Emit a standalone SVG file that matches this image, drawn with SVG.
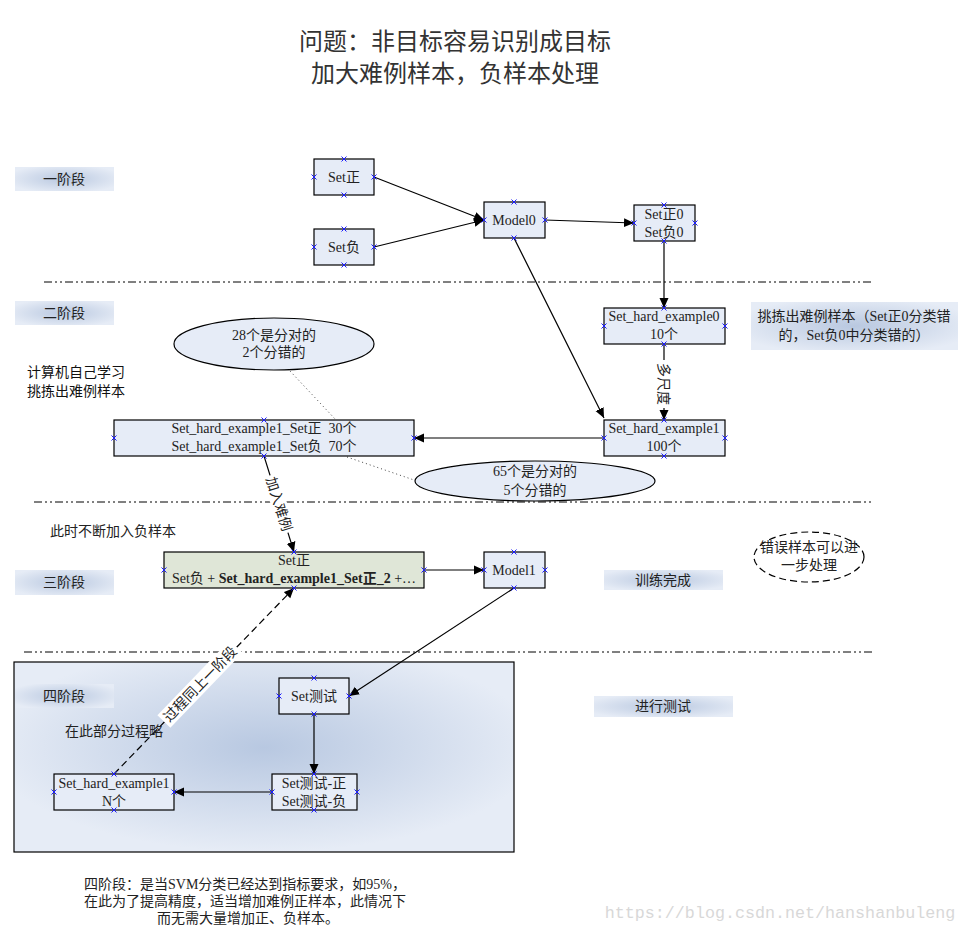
<svg xmlns="http://www.w3.org/2000/svg" xmlns:xlink="http://www.w3.org/1999/xlink" width="966" height="932" viewBox="0 0 966 932">
<defs>
<radialGradient id="lbl" cx="0.5" cy="0.5" r="0.6">
<stop offset="0" stop-color="#b9c8e0"/><stop offset="1" stop-color="#e6ecf6"/>
</radialGradient>
<radialGradient id="big" cx="0.5" cy="0.45" r="0.55">
<stop offset="0" stop-color="#b8c8e1"/><stop offset="1" stop-color="#e6ecf6"/>
</radialGradient>
<marker id="arr" viewBox="0 0 10 10" refX="10" refY="5" markerWidth="10" markerHeight="10" markerUnits="userSpaceOnUse" orient="auto">
<path d="M0,0.5 L10,5 L0,9.5 Z" fill="#000"/>
</marker>
<symbol id="m" overflow="visible"><path d="M-2.5,-2.5 L2.5,2.5 M-2.5,2.5 L2.5,-2.5" stroke="#1a1aff" stroke-width="1"/></symbol>
</defs>
<style>
text{font-family:"Liberation Serif","Noto Sans CJK SC",serif;font-size:14px;fill:#222;white-space:pre}
.c{text-anchor:middle}
.node{fill:#e6ecf7;stroke:#000;stroke-width:1.2}
.lbl{fill:url(#lbl)}
.edge{stroke:#000;stroke-width:1.2;fill:none}
.sep{stroke:#000;stroke-width:1;stroke-dasharray:8,3,2,3,2,3}
.dot{stroke:#444;stroke-width:1;stroke-dasharray:1,3;fill:none}
.sans{font-family:"Noto Sans CJK SC","Liberation Sans",sans-serif}
</style>
<rect width="966" height="932" fill="#fff"/>

<g id="title">
<text x="455" y="50" class="c sans" style="font-size:24px;fill:#333">问题：非目标容易识别成目标</text>
<text x="455" y="82" class="c sans" style="font-size:24px;fill:#333">加大难例样本，负样本处理</text>
</g>

<g id="separators">
<line x1="44" y1="282" x2="872" y2="282" class="sep"/>
<line x1="34" y1="502" x2="872" y2="502" class="sep"/>
<line x1="24" y1="652" x2="872" y2="652" class="sep"/>
</g>

<g id="stage4box"><rect x="14" y="662" width="500" height="190" fill="url(#big)" stroke="#000" stroke-width="1.2"/></g>

<g id="stage1"><rect x="15" y="167" width="99" height="24" class="lbl"/><text x="64" y="184" class="c">一阶段</text></g>
<g id="stage2"><rect x="15" y="301" width="99" height="24" class="lbl"/><text x="64" y="318" class="c">二阶段</text></g>
<g id="stage3"><rect x="15" y="570" width="99" height="25" class="lbl"/><text x="64" y="587" class="c">三阶段</text></g>
<g id="stage4"><rect x="15" y="684" width="99" height="24" class="lbl"/><text x="64" y="701" class="c">四阶段</text></g>
<g id="note-train"><rect x="604" y="570" width="119" height="20" class="lbl"/><text x="663" y="585" class="c">训练完成</text></g>
<g id="note-test"><rect x="594" y="696" width="139" height="21" class="lbl"/><text x="663" y="711" class="c">进行测试</text></g>
<g id="note-pick"><rect x="751" y="302" width="207" height="48" class="lbl"/><text x="854" y="321" class="c">挑拣出难例样本（Set正0分类错</text><text x="854" y="340" class="c">的，Set负0中分类错的）</text></g>

<g id="connectors">
<line x1="374" y1="177" x2="484" y2="220" class="edge" marker-end="url(#arr)"/>
<line x1="374" y1="247" x2="484" y2="220" class="edge" marker-end="url(#arr)"/>
<line x1="545" y1="220" x2="634" y2="223" class="edge" marker-end="url(#arr)"/>
<line x1="664" y1="241" x2="664" y2="308" class="edge" marker-end="url(#arr)"/>
<line x1="514" y1="238" x2="604" y2="418" class="edge" marker-end="url(#arr)"/>
<line x1="664" y1="344" x2="664" y2="420" class="edge" marker-end="url(#arr)"/>
<line x1="604" y1="438" x2="414" y2="438" class="edge" marker-end="url(#arr)"/>
<line x1="264" y1="456" x2="294" y2="552" class="edge" marker-end="url(#arr)"/>
<line x1="290" y1="371" x2="336" y2="420" class="dot"/>
<line x1="347" y1="457" x2="414" y2="480" class="dot"/>
<line x1="424" y1="570" x2="484" y2="570" class="edge" marker-end="url(#arr)"/>
<line x1="514" y1="588" x2="349" y2="696" class="edge" marker-end="url(#arr)"/>
<line x1="314" y1="714" x2="314" y2="774" class="edge" marker-end="url(#arr)"/>
<line x1="272" y1="792" x2="174" y2="792" class="edge" marker-end="url(#arr)"/>
<line x1="114" y1="774" x2="294" y2="588" class="edge" stroke-dasharray="7,4" marker-end="url(#arr)"/>
<g transform="translate(664,384) rotate(90)"><rect x="-24" y="-8" width="48" height="16" fill="#fff"/><text x="0" y="5" class="c">多尺度</text></g>
<g transform="translate(279,504) rotate(72.6)"><rect x="-30" y="-8" width="60" height="16" fill="#fff"/><text x="0" y="5" class="c">加入难例</text></g>
<g transform="translate(200,684) rotate(-46)"><rect x="-52" y="-9" width="104" height="18" fill="#fff"/><text x="0" y="5" class="c">过程同上一阶段</text></g>
</g>

<g id="n-setpos"><rect x="314" y="159" width="60" height="36" class="node"/><text x="344" y="182" class="c">Set正</text></g>
<g id="n-setneg"><rect x="314" y="229" width="60" height="36" class="node"/><text x="344" y="252" class="c">Set负</text></g>
<g id="n-model0"><rect x="484" y="202" width="61" height="36" class="node"/><text x="514" y="225" class="c">Model0</text></g>
<g id="n-set0"><rect x="634" y="205" width="61" height="36" class="node"/><text x="664" y="219" class="c">Set正0</text><text x="664" y="237" class="c">Set负0</text></g>
<g id="n-hard0"><rect x="604" y="308" width="121" height="36" class="node"/><text x="664" y="321" class="c">Set_hard_example0</text><text x="664" y="339" class="c">10个</text></g>
<g id="n-hard1"><rect x="604" y="420" width="121" height="36" class="node"/><text x="664" y="433" class="c">Set_hard_example1</text><text x="664" y="451" class="c">100个</text></g>
<g id="n-hard1set"><rect x="114" y="420" width="300" height="36" class="node"/><text x="264" y="433" class="c">Set_hard_example1_Set正  30个</text><text x="264" y="451" class="c">Set_hard_example1_Set负  70个</text></g>
<g id="n-e28"><ellipse cx="274" cy="344" rx="100" ry="26" class="node"/><text x="274" y="340" class="c">28个是分对的</text><text x="274" y="357" class="c">2个分错的</text></g>
<g id="n-e65"><ellipse cx="535" cy="481" rx="120" ry="20" class="node"/><text x="535" y="476" class="c">65个是分对的</text><text x="535" y="495" class="c">5个分错的</text></g>
<g id="n-train"><rect x="164" y="552" width="260" height="36" fill="#dfe6d7" stroke="#000" stroke-width="1.2"/><text x="294" y="565" class="c">Set正</text><text x="294" y="583" class="c">Set负 + <tspan font-weight="bold">Set_hard_example1_Set正_2</tspan> +…</text></g>
<g id="n-model1"><rect x="484" y="552" width="61" height="36" class="node"/><text x="514" y="575" class="c">Model1</text></g>
<g id="n-err"><ellipse cx="809" cy="557" rx="55" ry="25" fill="#fff" stroke="#000" stroke-width="1.2" stroke-dasharray="7,4"/><text x="809" y="552" class="c">错误样本可以进</text><text x="809" y="570" class="c">一步处理</text></g>
<g id="n-test"><rect x="279" y="678" width="70" height="36" class="node"/><text x="314" y="701" class="c">Set测试</text></g>
<g id="n-testpn"><rect x="272" y="774" width="85" height="36" class="node"/><text x="314" y="788" class="c">Set测试-正</text><text x="314" y="806" class="c">Set测试-负</text></g>
<g id="n-hardN"><rect x="54" y="774" width="120" height="36" class="node"/><text x="114" y="788" class="c">Set_hard_example1</text><text x="114" y="806" class="c">N个</text></g>

<g id="markers">
<use href="#m" x="344" y="159"/><use href="#m" x="314" y="177"/><use href="#m" x="374" y="177"/><use href="#m" x="344" y="195"/>
<use href="#m" x="344" y="229"/><use href="#m" x="314" y="247"/><use href="#m" x="374" y="247"/><use href="#m" x="344" y="265"/>
<use href="#m" x="514" y="202"/><use href="#m" x="484" y="220"/><use href="#m" x="545" y="220"/><use href="#m" x="514" y="238"/>
<use href="#m" x="664" y="205"/><use href="#m" x="634" y="223"/><use href="#m" x="695" y="223"/><use href="#m" x="664" y="241"/>
<use href="#m" x="664" y="308"/><use href="#m" x="604" y="326"/><use href="#m" x="725" y="326"/><use href="#m" x="664" y="344"/>
<use href="#m" x="664" y="420"/><use href="#m" x="604" y="438"/><use href="#m" x="725" y="438"/><use href="#m" x="664" y="456"/>
<use href="#m" x="264" y="420"/><use href="#m" x="114" y="438"/><use href="#m" x="414" y="438"/><use href="#m" x="264" y="456"/>
<use href="#m" x="294" y="552"/><use href="#m" x="164" y="570"/><use href="#m" x="424" y="570"/><use href="#m" x="294" y="588"/>
<use href="#m" x="514" y="552"/><use href="#m" x="484" y="570"/><use href="#m" x="545" y="570"/><use href="#m" x="514" y="588"/>
<use href="#m" x="314" y="678"/><use href="#m" x="279" y="696"/><use href="#m" x="349" y="696"/><use href="#m" x="314" y="714"/>
<use href="#m" x="314" y="774"/><use href="#m" x="272" y="792"/><use href="#m" x="357" y="792"/><use href="#m" x="314" y="810"/>
<use href="#m" x="114" y="774"/><use href="#m" x="54" y="792"/><use href="#m" x="174" y="792"/><use href="#m" x="114" y="810"/>
</g>

<g id="notes">
<text x="27" y="377" class="sans" style="fill:#111">计算机自己学习</text>
<text x="27" y="396" class="sans" style="fill:#111">挑拣出难例样本</text>
<text x="50" y="536">此时不断加入负样本</text>
<text x="65" y="736">在此部分过程略</text>
<text x="245" y="889" class="c">四阶段：是当SVM分类已经达到指标要求，如95%，</text>
<text x="245" y="906" class="c">在此为了提高精度，适当增加难例正样本，此情况下</text>
<text x="248" y="923" class="c">而无需大量增加正、负样本。</text>
<text x="780" y="918" class="c" style="font-family:'Liberation Mono',monospace;font-size:16.7px;fill:#d8d8d8">https://blog.csdn.net/hanshanbuleng</text>
</g>
</svg>
